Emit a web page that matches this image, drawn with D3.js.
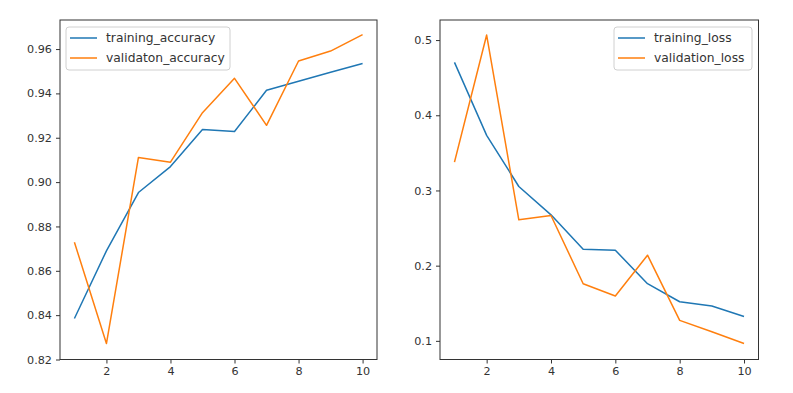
<!DOCTYPE html>
<html>
<head>
<meta charset="utf-8">
<script src="https://d3js.org/d3.v7.min.js"></script>
<style>
  body { margin: 0; background: #fff; }
  text { font-family: "DejaVu Sans", sans-serif; }
</style>
</head>
<body>
<svg id="chart" width="793" height="393"></svg>
<script>
// epochs 1..10
const epochs = [1, 2, 3, 4, 5, 6, 7, 8, 9, 10];

const trainingAccuracy = [0.8385, 0.869, 0.8953, 0.907, 0.9237, 0.9228, 0.9414, 0.9455, 0.9495, 0.9535];
const validationAccuracy = [0.8729, 0.8272, 0.9111, 0.909, 0.9313, 0.9468, 0.9256, 0.9546, 0.9591, 0.9665];

const trainingLoss = [0.4703, 0.3733, 0.3053, 0.2676, 0.2219, 0.2205, 0.176, 0.152, 0.1463, 0.1325];
const validationLoss = [0.3377, 0.5067, 0.2609, 0.2667, 0.176, 0.1596, 0.2139, 0.1272, 0.112, 0.0965];

const xTicks = [2, 4, 6, 8, 10];
const accTicks = [0.82, 0.84, 0.86, 0.88, 0.90, 0.92, 0.94, 0.96];
const lossTicks = [0.1, 0.2, 0.3, 0.4, 0.5];

const blue = "#1f77b4", orange = "#ff7f0e";
const svg = d3.select("#chart");

function panel(opts) {
  const { left, right, top, bottom, yDomain, yTicks, yFmt, series, legendX } = opts;
  const x = d3.scaleLinear().domain([0.55, 10.45]).range([left, right]);
  const y = d3.scaleLinear().domain(yDomain).range([bottom, top]);
  const g = svg.append("g");

  const line = d3.line().x((d, i) => x(epochs[i])).y(d => y(d));
  series.forEach(s => {
    g.append("path")
      .attr("d", line(s.values))
      .attr("fill", "none")
      .attr("stroke", s.color)
      .attr("stroke-width", 1.5)
      .attr("stroke-linejoin", "round");
  });

  const xAxis = g.append("g")
    .attr("transform", `translate(0,${bottom})`)
    .call(d3.axisBottom(x).tickValues(xTicks).tickSize(4).tickPadding(4));
  const yAxis = g.append("g")
    .attr("transform", `translate(${left},0)`)
    .call(d3.axisLeft(y).tickValues(yTicks).tickFormat(yFmt).tickSize(4).tickPadding(4));
  [xAxis, yAxis].forEach(a => {
    a.select(".domain").remove();
    a.selectAll("line").attr("stroke", "#333");
    a.selectAll("text").attr("fill", "#333").style("font-size", "11.2px").style("font-family", "DejaVu Sans");
  });

  g.append("rect")
    .attr("x", left).attr("y", top)
    .attr("width", right - left).attr("height", bottom - top)
    .attr("fill", "none").attr("stroke", "#333").attr("stroke-width", 1);

  // legend
  const lg = g.append("g").attr("transform", `translate(${legendX},27)`);
  lg.append("rect")
    .attr("width", opts.legendW).attr("height", 43)
    .attr("rx", 3)
    .attr("fill", "#fff").attr("fill-opacity", 0.8)
    .attr("stroke", "#d0d0d0");
  series.forEach((s, i) => {
    const yy = 11 + i * 20;
    lg.append("line")
      .attr("x1", 4).attr("x2", 31).attr("y1", yy).attr("y2", yy)
      .attr("stroke", s.color).attr("stroke-width", 1.5);
    lg.append("text")
      .attr("x", 40).attr("y", yy).attr("dy", "0.35em")
      .attr("fill", "#333")
      .style("font-size", "12.3px")
      .text(s.name);
  });
}

panel({
  left: 60, right: 377, top: 20, bottom: 359.5,
  yDomain: [0.82, 0.9731], yTicks: accTicks, yFmt: d3.format(".2f"),
  series: [
    { name: "training_accuracy", values: trainingAccuracy, color: blue },
    { name: "validaton_accuracy", values: validationAccuracy, color: orange }
  ],
  legendX: 66, legendW: 164
});

panel({
  left: 440, right: 758.5, top: 20, bottom: 359.5,
  yDomain: [0.0752, 0.5267], yTicks: lossTicks, yFmt: d3.format(".1f"),
  series: [
    { name: "training_loss", values: trainingLoss, color: blue },
    { name: "validation_loss", values: validationLoss, color: orange }
  ],
  legendX: 614, legendW: 138
});
</script>
</body>
</html>
